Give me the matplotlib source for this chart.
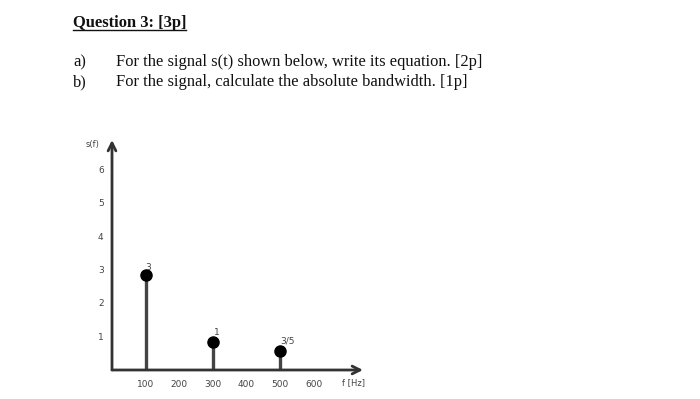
import matplotlib
matplotlib.use("Agg")
import matplotlib.pyplot as plt
from matplotlib.lines import Line2D

# Spectrum lines
freqs = [100, 300, 500]
amps = [2.85, 0.85, 0.57]
amp_labels = ["3", "1", "3/5"]
x_ticks = [100, 200, 300, 400, 500, 600]
y_ticks = [1, 2, 3, 4, 5, 6]

W, H = 700, 399
fig = plt.figure(figsize=(7, 3.99), dpi=100)
fig.patch.set_facecolor("white")

# question text
serif = ["Liberation Serif", "DejaVu Serif"]
fs = 11.9
title = fig.text(73 / W, 1 - 27 / H, "Question 3: [3p]", family=serif,
                 fontsize=fs, fontweight="bold", color="#111111",
                 ha="left", va="baseline")
fig.text(73 / W, 1 - 62 / H, "a)", family=serif, fontsize=fs, va="center", color="#111111")
fig.text(116 / W, 1 - 62 / H, "For the signal s(t) shown below, write its equation. [2p]",
         family=serif, fontsize=fs, va="center", color="#111111")
fig.text(73 / W, 1 - 82 / H, "b)", family=serif, fontsize=fs, va="center", color="#111111")
fig.text(116 / W, 1 - 82 / H, "For the signal, calculate the absolute bandwidth. [1p]",
         family=serif, fontsize=fs, va="center", color="#111111")

# underline for the title
fig.canvas.draw()
bb = title.get_window_extent().transformed(fig.transFigure.inverted())
fig.add_artist(Line2D([bb.x0, bb.x1], [1 - 30 / H, 1 - 30 / H],
                      transform=fig.transFigure, color="#111111", lw=1))

# axes placed to match the reference
x0, x1 = 112, 363
y0, y1 = 370, 140
ax = fig.add_axes([x0 / W, 1 - y0 / H, (x1 - x0) / W, (y0 - y1) / H])
ax.set_xlim(0, (x1 - x0) / 33.6 * 100)
ax.set_ylim(0, (y0 - y1) / 33.5)
for s in ax.spines.values():
    s.set_visible(False)

axis_col = "#333333"
ax.annotate("", xy=(1, 0), xytext=(0, 0), xycoords="axes fraction",
            arrowprops=dict(arrowstyle="->", color=axis_col, lw=2,
                            shrinkA=0, shrinkB=0, mutation_scale=14))
ax.annotate("", xy=(0, 1), xytext=(0, 0), xycoords="axes fraction",
            arrowprops=dict(arrowstyle="->", color=axis_col, lw=2,
                            shrinkA=0, shrinkB=0, mutation_scale=14))

ax.set_xticks(x_ticks)
ax.set_yticks(y_ticks)
ax.tick_params(length=0, labelsize=6.5, labelcolor="#444444")
ax.tick_params(axis="x", pad=7)
ax.tick_params(axis="y", pad=6)

# stems
ax.vlines(freqs, 0, amps, color="#444444", lw=2.4)
ax.plot(freqs, amps, "o", color="black", ms=8, zorder=3)

offsets = {"3": (0, 2), "1": (1, 3), "3/5": (0, 4)}
for f, a, lab in zip(freqs, amps, amp_labels):
    ax.annotate(lab, (f, a), xytext=offsets[lab], textcoords="offset points",
                fontsize=6.5, color="#444444", ha="left", va="bottom", zorder=4)

fig.text(93 / W, 1 - 145 / H, "s(f)", fontsize=6, color="#444444", ha="center", va="center")
fig.text(354 / W, 1 - 383 / H, "f [Hz]", fontsize=6, color="#444444", ha="center", va="center")

fig.savefig("out.png", dpi=100)
